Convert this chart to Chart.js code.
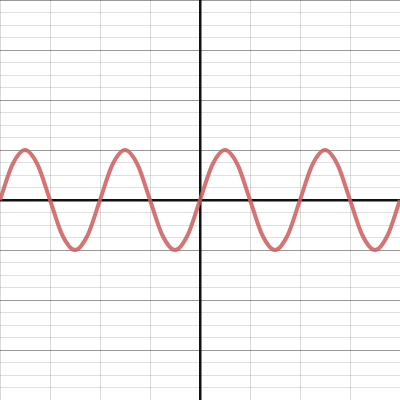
<!DOCTYPE html>
<html>
<head>
<meta charset="utf-8">
<script src="https://cdn.jsdelivr.net/npm/chart.js@4"></script>
<style>
  html, body { margin: 0; padding: 0; background: #fff; }
  #wrap { width: 400px; height: 400px; }
</style>
</head>
<body>
<div id="wrap"><canvas id="graph"></canvas></div>
<script>
// x positions, in grid units (one major cell = 1)
const xValues = [-4, -3.75, -3.5, -3.25, -3, -2.75, -2.5, -2.25, -2, -1.75, -1.5, -1.25, -1, -0.75, -0.5, -0.25,
  0, 0.25, 0.5, 0.75, 1, 1.25, 1.5, 1.75, 2, 2.25, 2.5, 2.75, 3, 3.25, 3.5, 3.75, 4];
// curve heights
const yValues = [0, 0.71, 1, 0.71, 0, -0.71, -1, -0.71, 0, 0.71, 1, 0.71, 0, -0.71, -1, -0.71,
  0, 0.71, 1, 0.71, 0, -0.71, -1, -0.71, 0, 0.71, 1, 0.71, 0, -0.71, -1, -0.71, 0];

const points = xValues.map((x, i) => ({ x: x, y: yValues[i] }));

new Chart(document.getElementById("graph"), {
  type: "line",
  data: {
    datasets: [{
      data: points,
      borderColor: "rgba(206,92,92,0.85)",
      borderWidth: 4,
      pointRadius: 0,
      cubicInterpolationMode: "monotone",
      fill: false
    }]
  },
  options: {
    responsive: true,
    maintainAspectRatio: false,
    animation: false,
    layout: { padding: 0 },
    plugins: { legend: { display: false }, tooltip: { enabled: false } },
    scales: {
      x: {
        type: "linear", min: -4, max: 4,
        ticks: { display: false, stepSize: 1 },
        border: { display: false },
        grid: {
          drawTicks: false,
          color: c => c.tick.value === 0 ? "#111" : "rgba(0,0,0,0.15)",
          lineWidth: c => c.tick.value === 0 ? 2.5 : 1
        }
      },
      y: {
        min: -4, max: 4,
        ticks: { display: false, stepSize: 0.25 },
        border: { display: false },
        grid: {
          drawTicks: false,
          color: c => c.tick.value === 0 ? "#111" :
            (Number.isInteger(c.tick.value) ? "rgba(0,0,0,0.4)" : "rgba(0,0,0,0.12)"),
          lineWidth: c => c.tick.value === 0 ? 2.5 : 1
        }
      }
    }
  }
});
</script>
</body>
</html>
